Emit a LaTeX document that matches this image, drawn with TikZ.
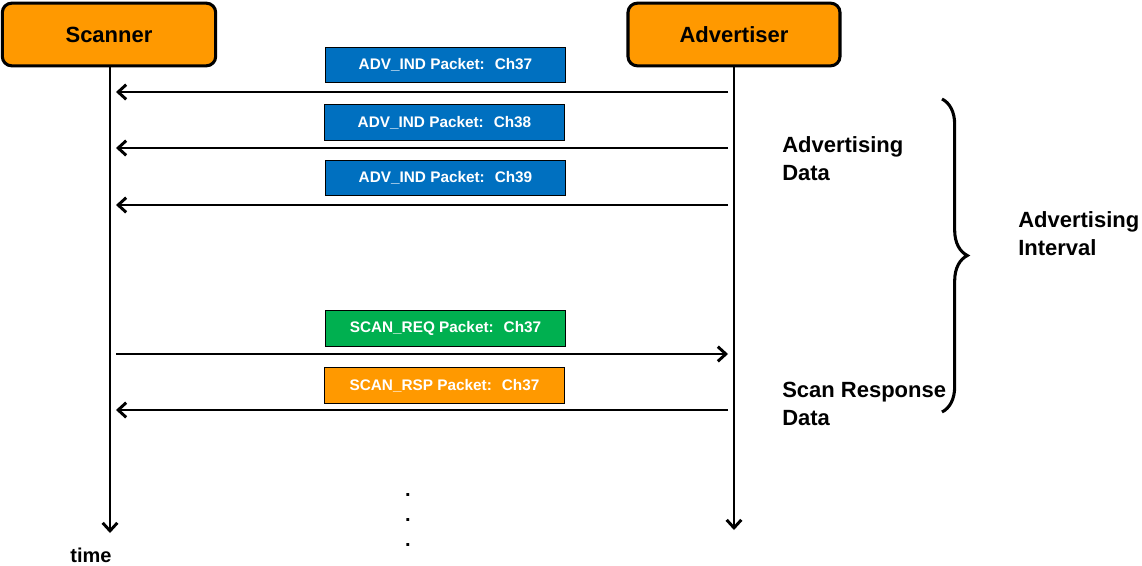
\documentclass[tikz,border=0pt]{standalone}
\usepackage{fontspec}
\setmainfont{Liberation Sans}
\usetikzlibrary{arrows.meta,decorations.pathreplacing}
\begin{document}
\begin{tikzpicture}[x=0.75pt,y=-0.75pt,
  head/.style={draw=black,line width=2.3pt,fill=colHead,rounded corners=7pt,font=\bfseries\fontsize{16.5}{18}\selectfont,inner sep=0pt},
  pkt/.style={draw=black,line width=0.6pt,text=white,font=\bfseries\fontsize{11.5}{13}\selectfont,inner sep=0pt,minimum width=180pt,minimum height=26.5pt},
  msg/.style={line width=2.2pt,-{Straight Barb[length=6pt,width=11pt,line width=2.2pt]}},
  life/.style={line width=2.2pt,-{Straight Barb[length=6pt,width=11pt,line width=2.2pt]}},
  lbl/.style={font=\bfseries\fontsize{16.5}{21}\selectfont,align=left,anchor=north west,inner sep=0pt}]
\definecolor{colHead}{HTML}{FF9900}
\definecolor{colBlue}{HTML}{0070C0}
\definecolor{colGreen}{HTML}{00B050}
\useasboundingbox (0,0) rectangle (1142,565);
\node[head,minimum width=160pt,minimum height=47pt] (sc) at (109,34.5) {Scanner};
\node[head,minimum width=159pt,minimum height=47pt] (ad) at (734,34.5) {Advertiser};
\coordinate (scEnd) at (110,533);
\coordinate (adEnd) at (734,530);
\draw[life] (sc.south -| scEnd) -- (scEnd);
\draw[life] (ad.south) -- (adEnd);
\foreach \y/\n in {92/a,148/b,205/c,354/d,410/e}{
  \coordinate (L\n) at (116,\y); \coordinate (R\n) at (728,\y);}
\draw[msg] (Ra) -- (La);
\draw[msg] (Rb) -- (Lb);
\draw[msg] (Rc) -- (Lc);
\draw[msg] (Ld) -- (Rd);
\draw[msg] (Re) -- (Le);
\node[pkt,fill=colBlue] (p1) at (445.5,65) {ADV\_IND Packet:~ Ch37};
\node[pkt,fill=colBlue] (p2) at (444.5,122.5) {ADV\_IND Packet:~ Ch38};
\node[pkt,fill=colBlue] (p3) at (445.5,178) {ADV\_IND Packet:~ Ch39};
\node[pkt,fill=colGreen] (p4) at (445.5,328.5) {SCAN\_REQ Packet:~ Ch37};
\node[pkt,fill=colHead] (p5) at (444.5,385.5) {SCAN\_RSP Packet:~ Ch37};
\node[lbl] (t1) at (782,136) {Advertising\\Data};
\node[lbl] (t2) at (1018,211) {Advertising\\Interval};
\node[lbl] (t3) at (782,382) {Scan Response\\Data};
\node[font=\bfseries\fontsize{15}{17}\selectfont] (tm) at (91,555) {time};
\node[font=\bfseries\fontsize{15}{17}\selectfont,align=center] (dots) at (408,520) {.\\[2pt].\\[2pt].};
\draw[line width=2.3pt,decorate,decoration={brace,amplitude=19pt,aspect=0.5}] (942,99) -- (942,412);
\end{tikzpicture}
\end{document}
